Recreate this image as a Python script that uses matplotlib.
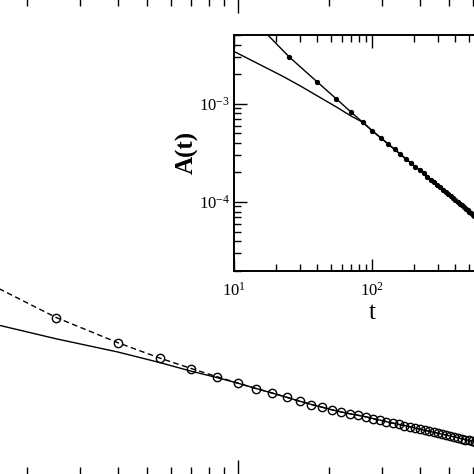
import numpy as np
import matplotlib.pyplot as plt
from matplotlib.ticker import LogLocator, NullFormatter, NullLocator

plt.rcParams['font.family'] = ['Liberation Serif', 'DejaVu Serif']
plt.rcParams['mathtext.fontset'] = 'custom'
plt.rcParams['mathtext.rm'] = 'Liberation Serif'
plt.rcParams['mathtext.it'] = 'Liberation Serif:italic'
plt.rcParams['mathtext.bf'] = 'Liberation Serif:bold'

# main panel: open circles (dashed) and fit (solid), y in arbitrary units
t_main = [10, 25, 40, 55, 70, 85, 100, 115, 130, 145, 160, 175, 190, 205, 220,
          235, 250, 265, 280, 295, 310, 325, 340, 355, 370, 385, 400, 415, 430,
          445, 460, 475, 490, 505, 520, 535, 550, 565, 580, 595, 610, 625]
y_main = [0.0966, 0.0764, 0.0680, 0.0629, 0.0594, 0.0567, 0.0545, 0.0527,
          0.0512, 0.0498, 0.0485, 0.0474, 0.0465, 0.0456, 0.0449, 0.0443,
          0.0438, 0.0433, 0.0427, 0.0422, 0.0417, 0.0412, 0.0408, 0.0404,
          0.0400, 0.0396, 0.0392, 0.0388, 0.0385, 0.0381, 0.0378, 0.0375,
          0.0372, 0.0369, 0.0366, 0.0363, 0.0360, 0.0357, 0.0355, 0.0352,
          0.0350, 0.0347]
t_fit_early = [10, 25, 40, 55, 70, 85]
y_fit_early = [0.0788, 0.0693, 0.0649, 0.0614, 0.0585, 0.0564]

# inset: A(t) data (small dots) and fit (solid)
t_ins = [10, 25, 40, 55, 70, 85, 100, 115, 130, 145, 160, 175, 190, 205, 220,
         235, 250, 265, 280, 295, 310, 325, 340, 355, 370, 385, 400, 415, 430,
         445, 460, 475, 490, 505, 520, 535, 550, 565, 580, 595, 610]
A_ins = [1.12e-2, 2.99e-3, 1.66e-3, 1.117e-3, 8.24e-4, 6.50e-4, 5.30e-4,
         4.50e-4, 3.90e-4, 3.43e-4, 3.06e-4, 2.75e-4, 2.50e-4, 2.29e-4,
         2.11e-4, 1.95e-4, 1.81e-4, 1.69e-4, 1.59e-4, 1.49e-4, 1.41e-4,
         1.33e-4, 1.27e-4, 1.20e-4, 1.15e-4, 1.09e-4, 1.05e-4, 1.00e-4,
         9.62e-5, 9.24e-5, 8.89e-5, 8.56e-5, 8.26e-5, 7.97e-5, 7.70e-5,
         7.45e-5, 7.21e-5, 6.99e-5, 6.77e-5, 6.58e-5, 6.40e-5]
t_ins_fit_early = [10, 13, 17, 22, 30, 40, 55, 70]
A_ins_fit_early = [3.39e-3, 2.81e-3, 2.32e-3, 1.93e-3, 1.52e-3, 1.20e-3,
                   9.25e-4, 7.50e-4]

fig = plt.figure(figsize=(4.74, 4.74), dpi=100)
W = H = 474.0

# main axes reaches past the picture edges
ax = fig.add_axes([-100 / W, -1 / H, 674 / W, 477 / H])
ax.set_xscale('log')
ax.set_xlim(7.6, 1296)
ax.set_ylim(0.0239, 0.1829)
ax.plot(t_main, y_main, color='black', lw=1.0, ls=(0, (4, 2.5)),
        marker='o', ms=6.0, mfc='none', mec='black', mew=1.0)
ax.plot(t_fit_early + t_main[6:], y_fit_early + y_main[6:], color='black', lw=1.0)
ax.tick_params(which='both', direction='in', top=True, right=True, width=1.0)
ax.tick_params(which='major', length=10.5)
ax.tick_params(which='minor', length=5.5)
ax.yaxis.set_major_locator(NullLocator())
ax.set_xticklabels([])
for s in ax.spines.values():
    s.set_linewidth(1.2)

# inset
ins = fig.add_axes([234.3 / W, (H - 270.7) / H, 276 / W, 235.7 / H])
ins.set_xscale('log')
ins.set_yscale('log')
ins.set_xlim(10, 1000)
ins.set_ylim(2e-5, 5e-3)
ins.plot(t_ins, A_ins, color='black', lw=1.0, marker='o', ms=2.8)
ins.plot(t_ins_fit_early + t_ins[5:], A_ins_fit_early + A_ins[5:],
         color='black', lw=1.0)
ins.xaxis.set_major_locator(LogLocator(base=10))
ins.xaxis.set_minor_locator(LogLocator(base=10, subs=np.arange(2, 10)))
ins.xaxis.set_minor_formatter(NullFormatter())
ins.yaxis.set_major_locator(LogLocator(base=10))
ins.yaxis.set_minor_locator(LogLocator(base=10, subs=np.arange(2, 10)))
ins.yaxis.set_minor_formatter(NullFormatter())
ins.tick_params(which='both', direction='in', top=True, right=True, width=1.0,
                labelsize=12)
ins.tick_params(which='major', length=9)
ins.tick_params(which='minor', length=5)
ins.tick_params(axis='x', which='major', pad=8)
ins.tick_params(axis='y', which='major', pad=3)
ins.set_xlabel('t', fontsize=18, labelpad=2)
ins.set_ylabel('A(t)', fontsize=18, fontweight='bold', labelpad=0)
for s in ins.spines.values():
    s.set_linewidth(1.4)

fig.savefig('out.png', dpi=100)
